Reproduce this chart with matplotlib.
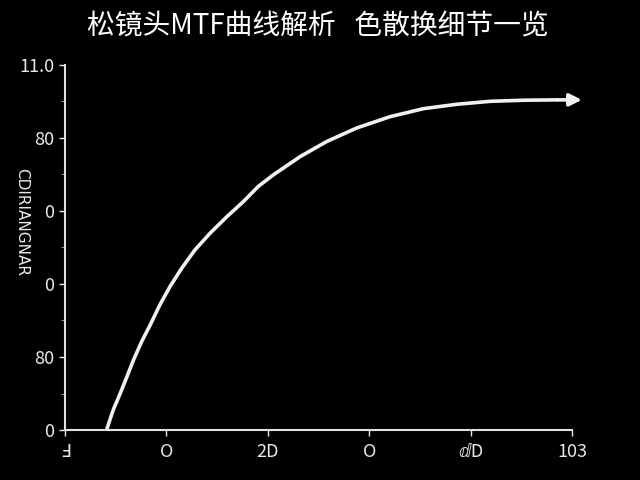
import matplotlib.pyplot as plt

plt.rcParams['font.family'] = ['Noto Sans CJK SC', 'DejaVu Sans']

# curve (axis units: x 0..100, y 0..100)
freq = [8.3, 9.5, 10.9, 12.2, 13.5, 15.1, 16.8, 18.7, 20.7, 23.0, 25.6,
        28.6, 31.9, 35.2, 38.1, 41.1, 46.4, 51.6, 57.5, 64.1, 70.7, 77.3,
        83.8, 90.4, 97.0]
mtf = [0.5, 5.5, 10.1, 14.6, 19.2, 24.2, 28.8, 34.3, 39.3, 44.3, 49.3,
       53.9, 58.4, 62.6, 66.7, 69.9, 74.9, 79.0, 82.7, 85.8, 88.0, 89.2,
       90.0, 90.3, 90.4]
arrow_tip = (101.9, 90.4)

x_ticks = [0, 20, 40, 60, 80, 100]
x_labels = ['Ⅎ', 'O', '2D', 'O', 'ⅆD', '103']
y_ticks = [0, 20, 40, 60, 80, 100]
y_labels = ['0', '80', '0', '0', '80', '11.0']

fig = plt.figure(figsize=(6.4, 4.8), dpi=100, facecolor='black')
ax = fig.add_axes([0.1016, 0.104, 0.7925, 0.761])
ax.set_facecolor('black')

ax.plot(freq, mtf, color='#f0f0f0', lw=2.6, solid_capstyle='round')
ax.annotate('', xy=arrow_tip, xytext=(freq[-1], mtf[-1]),
            annotation_clip=False,
            arrowprops=dict(arrowstyle='-|>', color='#f0f0f0', lw=2.6,
                            mutation_scale=18, shrinkA=0, shrinkB=0))

ax.set_xlim(0, 100)
ax.set_ylim(0, 100)
ax.set_xticks(x_ticks)
ax.set_xticklabels(x_labels)
ax.set_yticks(y_ticks)
ax.set_yticklabels(y_labels)
ax.set_yticks([10, 30, 50, 70, 90], minor=True)

for s in ['top', 'right']:
    ax.spines[s].set_visible(False)
for s in ['left', 'bottom']:
    ax.spines[s].set_color('#e0e0e0')
    ax.spines[s].set_linewidth(1.5)
ax.tick_params(colors='#e8e8e8', labelsize=13, length=4, width=1)
ax.tick_params(which='minor', colors='#aaaaaa', length=3)
ax.tick_params(axis='x', pad=5)

fig.text(0.034, 0.5375, 'CDIRIANGNAR', rotation=270, color='#e8e8e8',
         fontsize=11, ha='center', va='center', family='DejaVu Sans')
fig.text(0.497, 0.945, '松镜头MTF曲线解析   色散换细节一览', color='white',
         fontsize=20, ha='center', va='center')

fig.savefig('out.png', dpi=100, facecolor='black')
